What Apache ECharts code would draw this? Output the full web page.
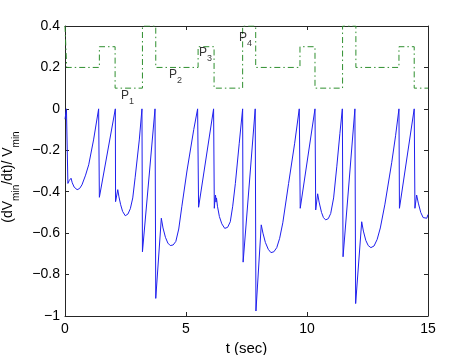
<!DOCTYPE html>
<html>
<head>
<meta charset="utf-8">
<script src="https://cdn.jsdelivr.net/npm/echarts@6/dist/echarts.min.js"></script>
<style>
html,body{margin:0;padding:0;background:#fff;}
#c{width:474px;height:355px;}
</style>
</head>
<body>
<div id="c"></div>
<script>
// Blue trace: (dVmin/dt)/Vmin over time
const tBlue = [0,0.06,0.12,0.18,0.25,0.3,0.38,0.5,0.6,0.7,0.85,0.98,1.18,1.39,1.42,2.08,2.09,2.18,2.23,2.3,2.38,2.49,2.6,2.7,2.8,2.9,3.07,3.18,3.2,3.72,3.75,3.98,4.05,4.15,4.25,4.35,4.47,4.58,4.7,4.83,5.04,5.32,5.48,5.52,6.14,6.17,6.2,6.22,6.24,6.26,6.3,6.38,6.48,6.6,6.72,6.83,6.93,7.04,7.2,7.34,7.36,7.86,7.89,8.11,8.18,8.28,8.4,8.51,8.63,8.75,8.87,9.0,9.24,9.49,9.68,9.72,10.33,10.36,10.44,10.5,10.6,10.68,10.77,10.88,10.98,11.1,11.23,11.36,11.46,11.49,11.98,12.01,12.26,12.33,12.43,12.53,12.64,12.77,12.9,13.03,13.22,13.5,13.66,13.8,13.82,14.43,14.46,14.53,14.6,14.7,14.8,14.88,14.95,15];
const vBlue = [-0.05,0,-0.36,-0.345,-0.335,-0.357,-0.378,-0.39,-0.385,-0.367,-0.32,-0.27,-0.15,0,-0.427,0,-0.448,-0.39,-0.425,-0.463,-0.495,-0.516,-0.508,-0.482,-0.43,-0.33,-0.15,0,-0.69,0,-0.915,-0.528,-0.575,-0.62,-0.648,-0.66,-0.657,-0.64,-0.58,-0.47,-0.30,-0.10,0,-0.475,0,-0.48,-0.43,-0.416,-0.45,-0.43,-0.47,-0.52,-0.555,-0.577,-0.572,-0.545,-0.47,-0.36,-0.166,0,-0.74,0,-0.976,-0.56,-0.6,-0.645,-0.678,-0.694,-0.69,-0.67,-0.625,-0.55,-0.36,-0.166,0,-0.48,0,-0.488,-0.41,-0.45,-0.5,-0.525,-0.536,-0.53,-0.505,-0.43,-0.28,-0.118,0,-0.714,0,-0.94,-0.545,-0.59,-0.635,-0.66,-0.67,-0.662,-0.63,-0.575,-0.46,-0.26,-0.13,0,-0.48,0,-0.48,-0.416,-0.455,-0.5,-0.525,-0.533,-0.528,-0.51];
// Green stepped signal: switching times and levels
const tGreen = [0,0.07,1.42,2.07,3.2,3.75,5.5,6.16,7.34,7.88,9.71,10.33,11.47,12.02,13.8,14.43,15];
const vGreen = [0.4,0.2,0.3,0.1,0.4,0.2,0.3,0.1,0.4,0.2,0.3,0.1,0.4,0.2,0.3,0.1,0.1];
// Annotations
const labelNames = ['1','2','3','4'];
const labelT = [2.58,4.57,5.81,7.46];
const labelV = [0.053,0.156,0.261,0.334];
// Axis ticks
const xTicks = [0,5,10,15];
const yTicks = [-1,-0.8,-0.6,-0.4,-0.2,0,0.2,0.4];

const FONT = 'Liberation Sans, Arial, Helvetica, sans-serif';
const blueData = tBlue.map((t,i)=>[t,vBlue[i]]);
const greenData = tGreen.map((t,i)=>[t,vGreen[i]]);
const labelData = labelT.map((t,i)=>({value:[t,labelV[i]], name:labelNames[i]}));

const fmtY = v => {
  const r = Math.round(v*10)/10;
  return (r<0?'\u2212':'') + String(Math.abs(r));
};
const axisLineStyle = {color:'#262626', width:1};

const chart = echarts.init(document.getElementById('c'), null, {renderer:'canvas'});
chart.setOption({
  animation:false,
  backgroundColor:'#fff',
  grid:{left:65, right:46, top:26, bottom:39, containLabel:false, outerBoundsMode:'none'},
  xAxis:[{
    type:'value', min:xTicks[0], max:xTicks[xTicks.length-1], interval:5,
    position:'bottom',
    name:'t (sec)', nameLocation:'middle', nameGap:23,
    nameTextStyle:{fontFamily:FONT, fontSize:15, color:'#000'},
    axisLine:{show:true, onZero:false, lineStyle:axisLineStyle},
    axisTick:{show:true, inside:true, length:4, lineStyle:axisLineStyle},
    axisLabel:{fontFamily:FONT, fontSize:14, color:'#000', margin:6},
    splitLine:{show:false}
  },{
    type:'value', min:xTicks[0], max:xTicks[xTicks.length-1], interval:5,
    position:'top',
    axisLine:{show:true, onZero:false, lineStyle:axisLineStyle},
    axisTick:{show:true, inside:true, length:4, lineStyle:axisLineStyle},
    axisLabel:{show:false}, splitLine:{show:false}
  }],
  yAxis:[{
    type:'value', min:yTicks[0], max:yTicks[yTicks.length-1], interval:0.2,
    position:'left',
    name:'{n|(dV}{s|min}{n|/dt)/ V}{s|min}', nameLocation:'middle', nameGap:42,
    nameTextStyle:{fontFamily:FONT, color:'#000', padding:[0,12,0,0],
      rich:{
        n:{fontFamily:FONT, fontSize:14, color:'#000', verticalAlign:'top', lineHeight:20},
        s:{fontFamily:FONT, fontSize:10, color:'#000', verticalAlign:'bottom', lineHeight:20}
      }},
    axisLine:{show:true, onZero:false, lineStyle:axisLineStyle},
    axisTick:{show:true, inside:true, length:4, lineStyle:axisLineStyle},
    axisLabel:{fontFamily:FONT, fontSize:14, color:'#000', margin:5, formatter:fmtY},
    splitLine:{show:false}
  },{
    type:'value', min:yTicks[0], max:yTicks[yTicks.length-1], interval:0.2,
    position:'right',
    axisLine:{show:true, onZero:false, lineStyle:axisLineStyle},
    axisTick:{show:true, inside:true, length:4, lineStyle:axisLineStyle},
    axisLabel:{show:false}, splitLine:{show:false}
  }],
  series:[{
    type:'line', xAxisIndex:0, yAxisIndex:0,
    data:greenData, step:'end', showSymbol:false, symbol:'none',
    lineStyle:{color:'#2f8f2f', width:1, type:[6,3,1.5,3]},
    z:2
  },{
    type:'line', xAxisIndex:0, yAxisIndex:0,
    data:blueData, showSymbol:false, symbol:'none',
    lineStyle:{color:'#1f1fee', width:1},
    z:3
  },{
    type:'scatter', xAxisIndex:0, yAxisIndex:0,
    data:labelData, symbolSize:0, silent:true,
    label:{show:true, position:'inside',
      formatter: p => '{p|P}{s|' + p.name + '}',
      rich:{
        p:{fontFamily:FONT, fontSize:12, color:'#000', verticalAlign:'top', lineHeight:16},
        s:{fontFamily:FONT, fontSize:9, color:'#000', verticalAlign:'bottom', lineHeight:16}
      }},
    z:4
  }]
});
</script>
</body>
</html>
